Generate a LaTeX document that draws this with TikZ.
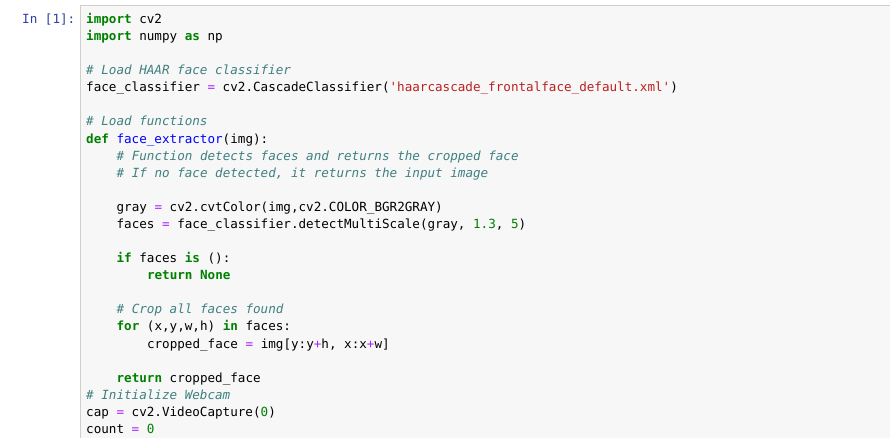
\documentclass[tikz,border=0pt]{standalone}
\usepackage{fontspec}
\newfontfamily\code{DejaVu Sans Mono}
\setmainfont{DejaVu Sans Mono}
\definecolor{kwc}{HTML}{008000}
\definecolor{cmc}{HTML}{408080}
\definecolor{stc}{HTML}{BA2121}
\definecolor{opc}{HTML}{AA22FF}
\definecolor{fnc}{HTML}{0000FF}
\definecolor{promptc}{HTML}{303F9F}
\newcommand{\Kw}[1]{\textcolor{kwc}{\bfseries #1}}
\newcommand{\Cm}[1]{\textcolor{cmc}{\itshape #1}}
\newcommand{\Str}[1]{\textcolor{stc}{#1}}
\newcommand{\Op}[1]{\textcolor{opc}{#1}}
\newcommand{\Num}[1]{\textcolor{kwc}{#1}}
\newcommand{\Fn}[1]{\textcolor{fnc}{#1}}
\tikzset{codeline/.style={anchor=base west,inner sep=0pt,font=\code\fontsize{12.6pt}{15pt}\selectfont}}
\begin{document}
\begin{tikzpicture}[x=1pt,y=1pt]
\useasboundingbox[fill=white] (0,0) rectangle (890,-437);
\draw[draw=black!19,fill=black!3] (80.5,-5.5) rectangle (900,-450);
\node[codeline,text=promptc] (prompt) at (22,-23) {In [1]:};
\def\L#1#2#3{\node[codeline] (#1) at ({86+7.6*#2},{-(23.5+17.08*#1)}) {#3};}
\L{0}{0}{\Kw{import} cv2}
\L{1}{0}{\Kw{import} numpy \Kw{as} np}
\L{3}{0}{\Cm{\# Load HAAR face classifier}}
\L{4}{0}{face\_classifier \Op{=} cv2.CascadeClassifier(\Str{'haarcascade\_frontalface\_default.xml'})}
\L{6}{0}{\Cm{\# Load functions}}
\L{7}{0}{\Kw{def} \Fn{face\_extractor}(img):}
\L{8}{4}{\Cm{\# Function detects faces and returns the cropped face}}
\L{9}{4}{\Cm{\# If no face detected, it returns the input image}}
\L{11}{4}{gray \Op{=} cv2.cvtColor(img,cv2.COLOR\_BGR2GRAY)}
\L{12}{4}{faces \Op{=} face\_classifier.detectMultiScale(gray, \Num{1.3}, \Num{5})}
\L{14}{4}{\Kw{if} faces \Kw{is} ():}
\L{15}{8}{\Kw{return} \Kw{None}}
\L{17}{4}{\Cm{\# Crop all faces found}}
\L{18}{4}{\Kw{for} (x,y,w,h) \Kw{in} faces:}
\L{19}{8}{cropped\_face \Op{=} img[y:y\Op{+}h, x:x\Op{+}w]}
\L{21}{4}{\Kw{return} cropped\_face}
\L{22}{0}{\Cm{\# Initialize Webcam}}
\L{23}{0}{cap \Op{=} cv2.VideoCapture(\Num{0})}
\L{24}{0}{count \Op{=} \Num{0}}
\end{tikzpicture}
\end{document}
